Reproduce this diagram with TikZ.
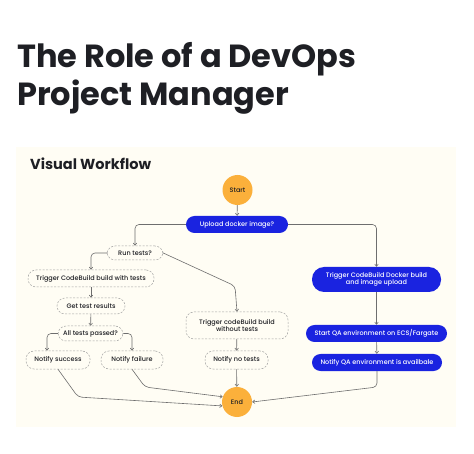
\documentclass[tikz,border=0pt]{standalone}
\usepackage{fontspec}
\setmainfont{Poppins}
\newfontfamily\pmed{Poppins Medium}
\usetikzlibrary{arrows.meta,calc}
\definecolor{bg}{HTML}{FFFDF4}
\definecolor{orng}{HTML}{FBB03B}
\definecolor{blu}{HTML}{1A23E0}
\definecolor{lin}{HTML}{6E6E6E}
\definecolor{ink}{HTML}{1E1F24}
\begin{document}
\begin{tikzpicture}[x=1pt,y=-1pt,
  base/.style={font=\pmed\fontsize{6.5}{7.6}\selectfont, inner sep=0pt, align=center, text=ink},
  circ/.style={base, circle, fill=orng, minimum size=30pt},
  bluebox/.style={base, rectangle, rounded corners=8.5pt, fill=blu, text=white, minimum height=17pt},
  dashbox/.style={base, rectangle, rounded corners=8pt, draw=lin!65, dashed, dash pattern=on 2pt off 1.5pt, line width=0.5pt, fill=bg, minimum height=16pt},
  arr/.style={draw=lin, line width=0.6pt, -{Straight Barb[length=2.2pt,width=3.5pt]}, rounded corners=4pt}
]
\useasboundingbox (0,0) rectangle (474,454);
\fill[white] (0,0) rectangle (474,454);
\fill[bg] (16,147) rectangle (456,427);

\node[anchor=base west, inner sep=0pt, text=ink, font=\fontsize{32}{36}\bfseries\selectfont] (t1) at (17,68) {The Role of a DevOps};
\node[anchor=base west, inner sep=0pt, text=ink, font=\fontsize{32}{36}\bfseries\selectfont] (t2) at (17,106) {Project Manager};
\node[anchor=base west, inner sep=0pt, text=ink, font=\fontsize{14.5}{16}\bfseries\selectfont] (vw) at (30,170) {Visual Workflow};

\node[circ] (start) at (237.5,190) {Start};
\node[bluebox, minimum width=102pt] (upload) at (237,224.5) {Upload docker image?};
\node[dashbox, minimum width=56pt, minimum height=14pt] (run) at (135,253) {Run tests?};
\node[dashbox, minimum width=126pt, minimum height=17pt] (trig) at (91,278.5) {Trigger CodeBuild build with tests};
\node[dashbox, minimum width=68pt] (get) at (91,306) {Get test results};
\node[dashbox, minimum width=65pt, minimum height=15pt] (all) at (90.5,333.5) {All tests passed?};
\node[dashbox, minimum width=64pt, minimum height=18pt] (succ) at (58,360) {Notify success};
\node[dashbox, minimum width=62pt, minimum height=18pt] (fail) at (132,360) {Notify failure};
\node[dashbox, minimum width=102pt, minimum height=27pt] (trigw) at (237,325.5) {Trigger codeBuild build\\without tests};
\node[dashbox, minimum width=63pt, minimum height=18pt] (nonot) at (236.5,360) {Notify no tests};
\node[circ] (end) at (237,402) {End};
\node[bluebox, minimum width=129pt, minimum height=25pt, rounded corners=12pt] (dock) at (376.5,279.5) {Trigger CodeBuild Docker build\\and image upload};
\node[bluebox, minimum width=141pt] (qa) at (376.5,333.5) {Start QA environment on ECS/Fargate};
\node[bluebox, minimum width=130pt] (nqa) at (377,362.5) {Notify QA environment is availbale};

\coordinate (c1) at (235,286);
\coordinate (c2) at (78,397);
\coordinate (c3) at (145,387);
\coordinate (c4) at (377,387);

\draw[arr] (start) -- (upload);
\draw[arr] (upload.west) -| (run.north);
\draw[arr] (upload.east) -| (dock.north);
\draw[arr] (run.west) -| (trig.north);
\draw[arr] (run.east) -- (c1) -- (trigw.north);
\draw[arr] (trig) -- (get);
\draw[arr] (get) -- (all);
\draw[arr] (all.west) -| ([xshift=-11pt]succ.north);
\draw[arr] (all.east) -| (fail.north);
\draw[arr] (trigw) -- (nonot);
\draw[arr] (nonot) -- (end);
\draw[arr] (succ.south) -- (c2) -- (end.195);
\draw[arr] (fail.south) -- (c3) -- (end.160);
\draw[arr] (dock) -- (qa);
\draw[arr] (qa) -- (nqa);
\draw[arr] (nqa.south) -- (c4) -- (end.east);
\end{tikzpicture}
\end{document}
